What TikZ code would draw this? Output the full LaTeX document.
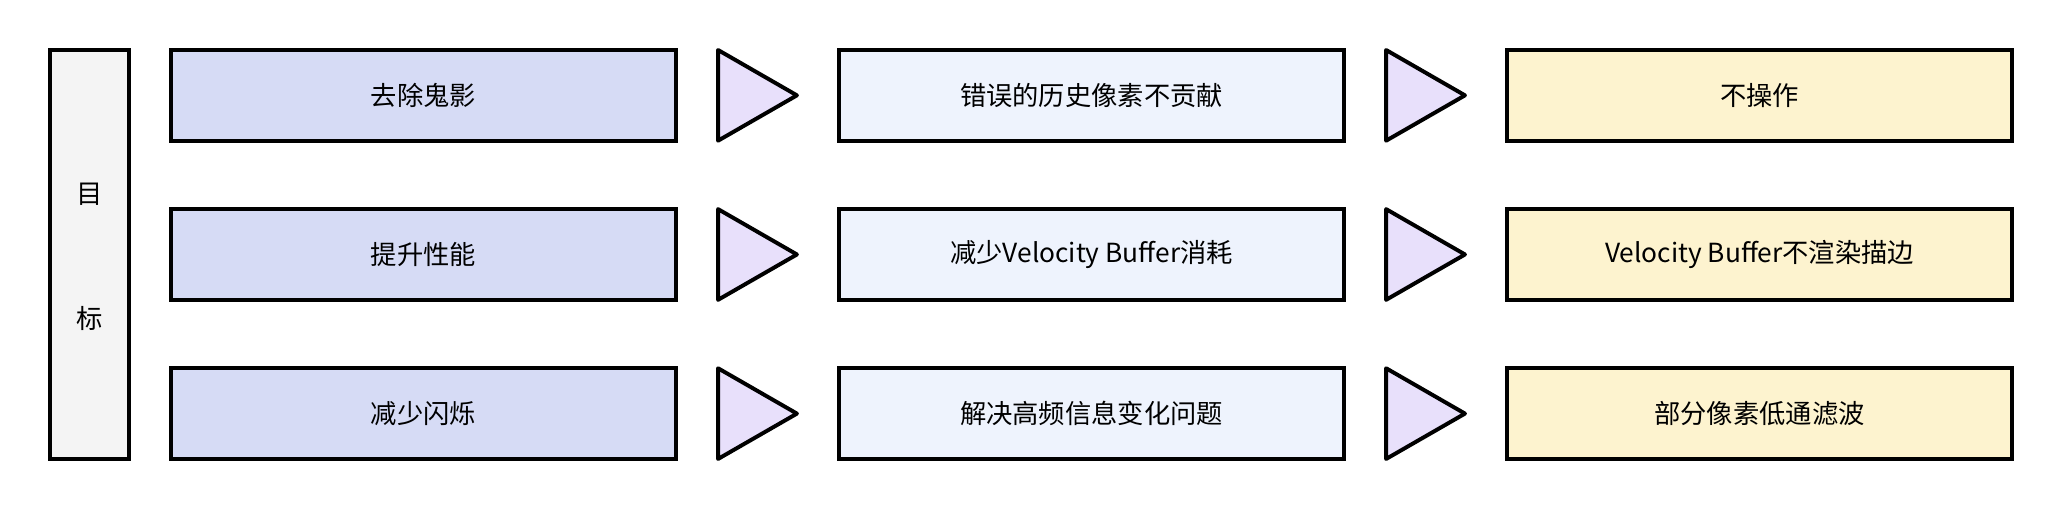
\documentclass[tikz,border=0pt]{standalone}
\usepackage{fontspec}
\setmainfont{Noto Sans CJK SC}
\definecolor{goalgray}{HTML}{F4F4F4}
\definecolor{aimblue}{HTML}{D6DBF5}
\definecolor{waylight}{HTML}{EEF3FD}
\definecolor{doyellow}{HTML}{FDF3CF}
\definecolor{arrowlilac}{HTML}{E8E0FB}
\begin{document}
\begin{tikzpicture}[x=0.5pt,y=-0.5pt,
    box/.style={draw=black,line width=1.5pt,minimum width=192pt,minimum height=34.5pt,font=\fontsize{10}{12}\selectfont},
    arrowtri/.style={draw=black,fill=arrowlilac,line width=1.5pt,line join=round}]
    \useasboundingbox (0,0) rectangle (1568,388);

    % goal column
    \draw[line width=1.5pt,fill=goalgray] (38,38) rectangle (98,349);
    \node[font=\fontsize{10}{12}\selectfont] (goalA) at (68,148) {目};
    \node[font=\fontsize{10}{12}\selectfont] (goalB) at (68,242) {标};

    % first column
    \node[box,fill=aimblue] (aim1) at (322,72.5) {去除鬼影};
    \node[box,fill=aimblue] (aim2) at (322,193.5) {提升性能};
    \node[box,fill=aimblue] (aim3) at (322,314.5) {减少闪烁};

    % second column
    \node[box,fill=waylight] (way1) at (830,72.5) {错误的历史像素不贡献};
    \node[box,fill=waylight] (way2) at (830,193.5) {减少Velocity Buffer消耗};
    \node[box,fill=waylight] (way3) at (830,314.5) {解决高频信息变化问题};

    % third column
    \node[box,fill=doyellow] (do1) at (1338,72.5) {不操作};
    \node[box,fill=doyellow] (do2) at (1338,193.5) {Velocity Buffer不渲染描边};
    \node[box,fill=doyellow] (do3) at (1338,314.5) {部分像素低通滤波};

    % arrows
    \foreach \yy in {72.5,193.5,314.5} {
        \draw[arrowtri] (546,\yy-34.5) -- (606,\yy) -- (546,\yy+34.5) -- cycle;
        \draw[arrowtri] (1054,\yy-34.5) -- (1114,\yy) -- (1054,\yy+34.5) -- cycle;
    }
\end{tikzpicture}
\end{document}
